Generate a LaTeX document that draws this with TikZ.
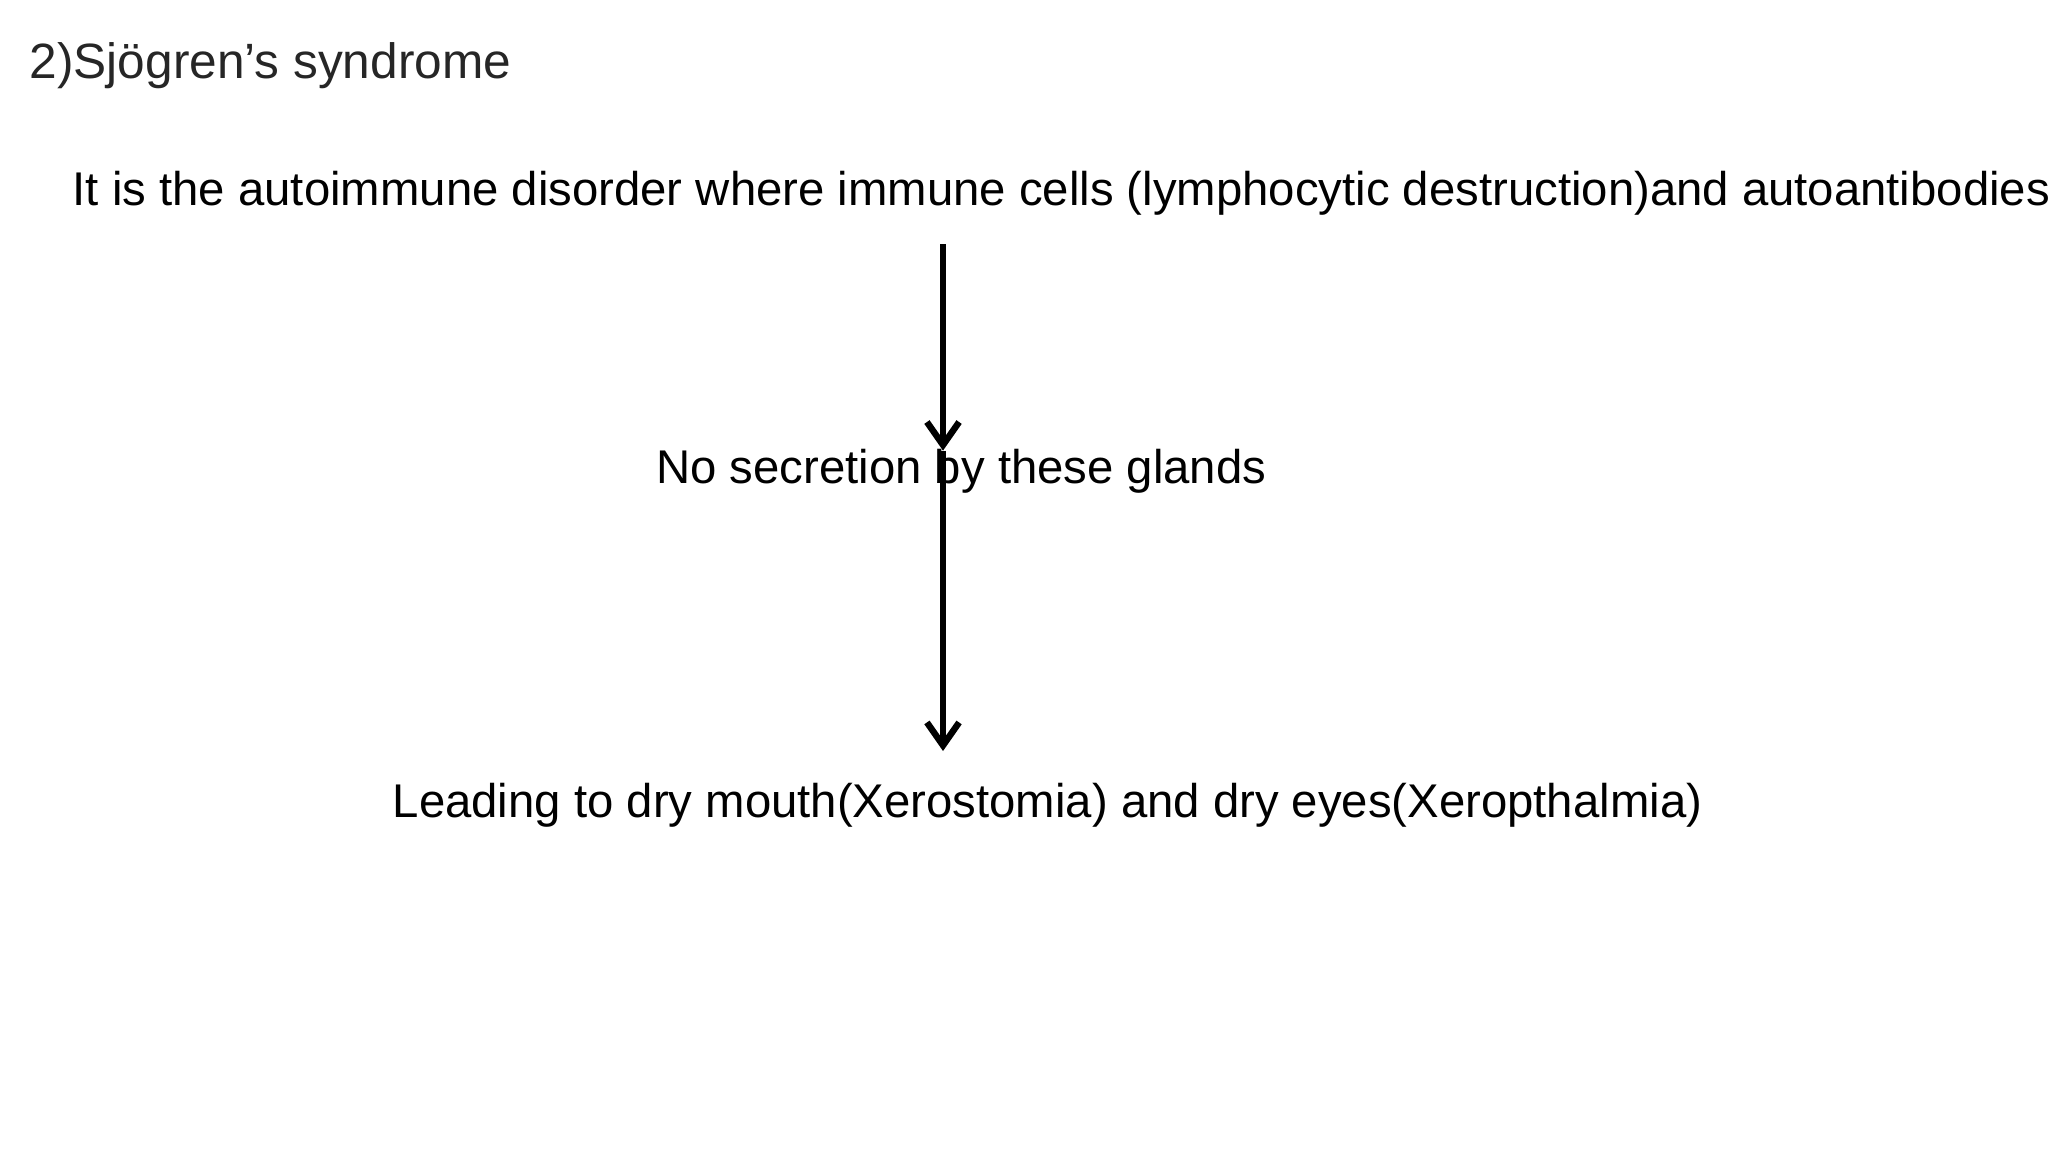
\documentclass[tikz,border=0pt]{standalone}
\usepackage{fontspec}
\setmainfont{Liberation Sans}
\usetikzlibrary{arrows.meta}
\begin{document}
\begin{tikzpicture}[x=0.01cm,y=0.01cm,
  txt/.style={inner sep=0pt,font=\fontsize{10.3pt}{12pt}\selectfont},
  flow/.style={line width=1.4pt,-{Straight Barb[length=5pt,width=7pt,line width=1.4pt]}}]
\useasboundingbox (0,0) rectangle (1568,-882);
\node[txt,anchor=base west,text=black!85,font=\fontsize{10.8pt}{12pt}\selectfont] (title) at (22,-60) {2)Sjögren's syndrome};
\node[txt,anchor=base west] (def) at (55,-157) {It is the autoimmune disorder where immune cells (lymphocytic destruction)and autoantibodies};
\node[txt,anchor=base] (nosec) at (736,-370) {No secretion by these glands};
\node[txt,anchor=base] (lead) at (802,-626) {Leading to dry mouth(Xerostomia) and dry eyes(Xeropthalmia)};
\coordinate (a) at (722,-187);
\coordinate (b) at (722,-345);
\coordinate (c) at (722,-575);
\draw[flow] (a) -- (b);
\draw[flow] (b) -- (c);
\end{tikzpicture}
\end{document}
